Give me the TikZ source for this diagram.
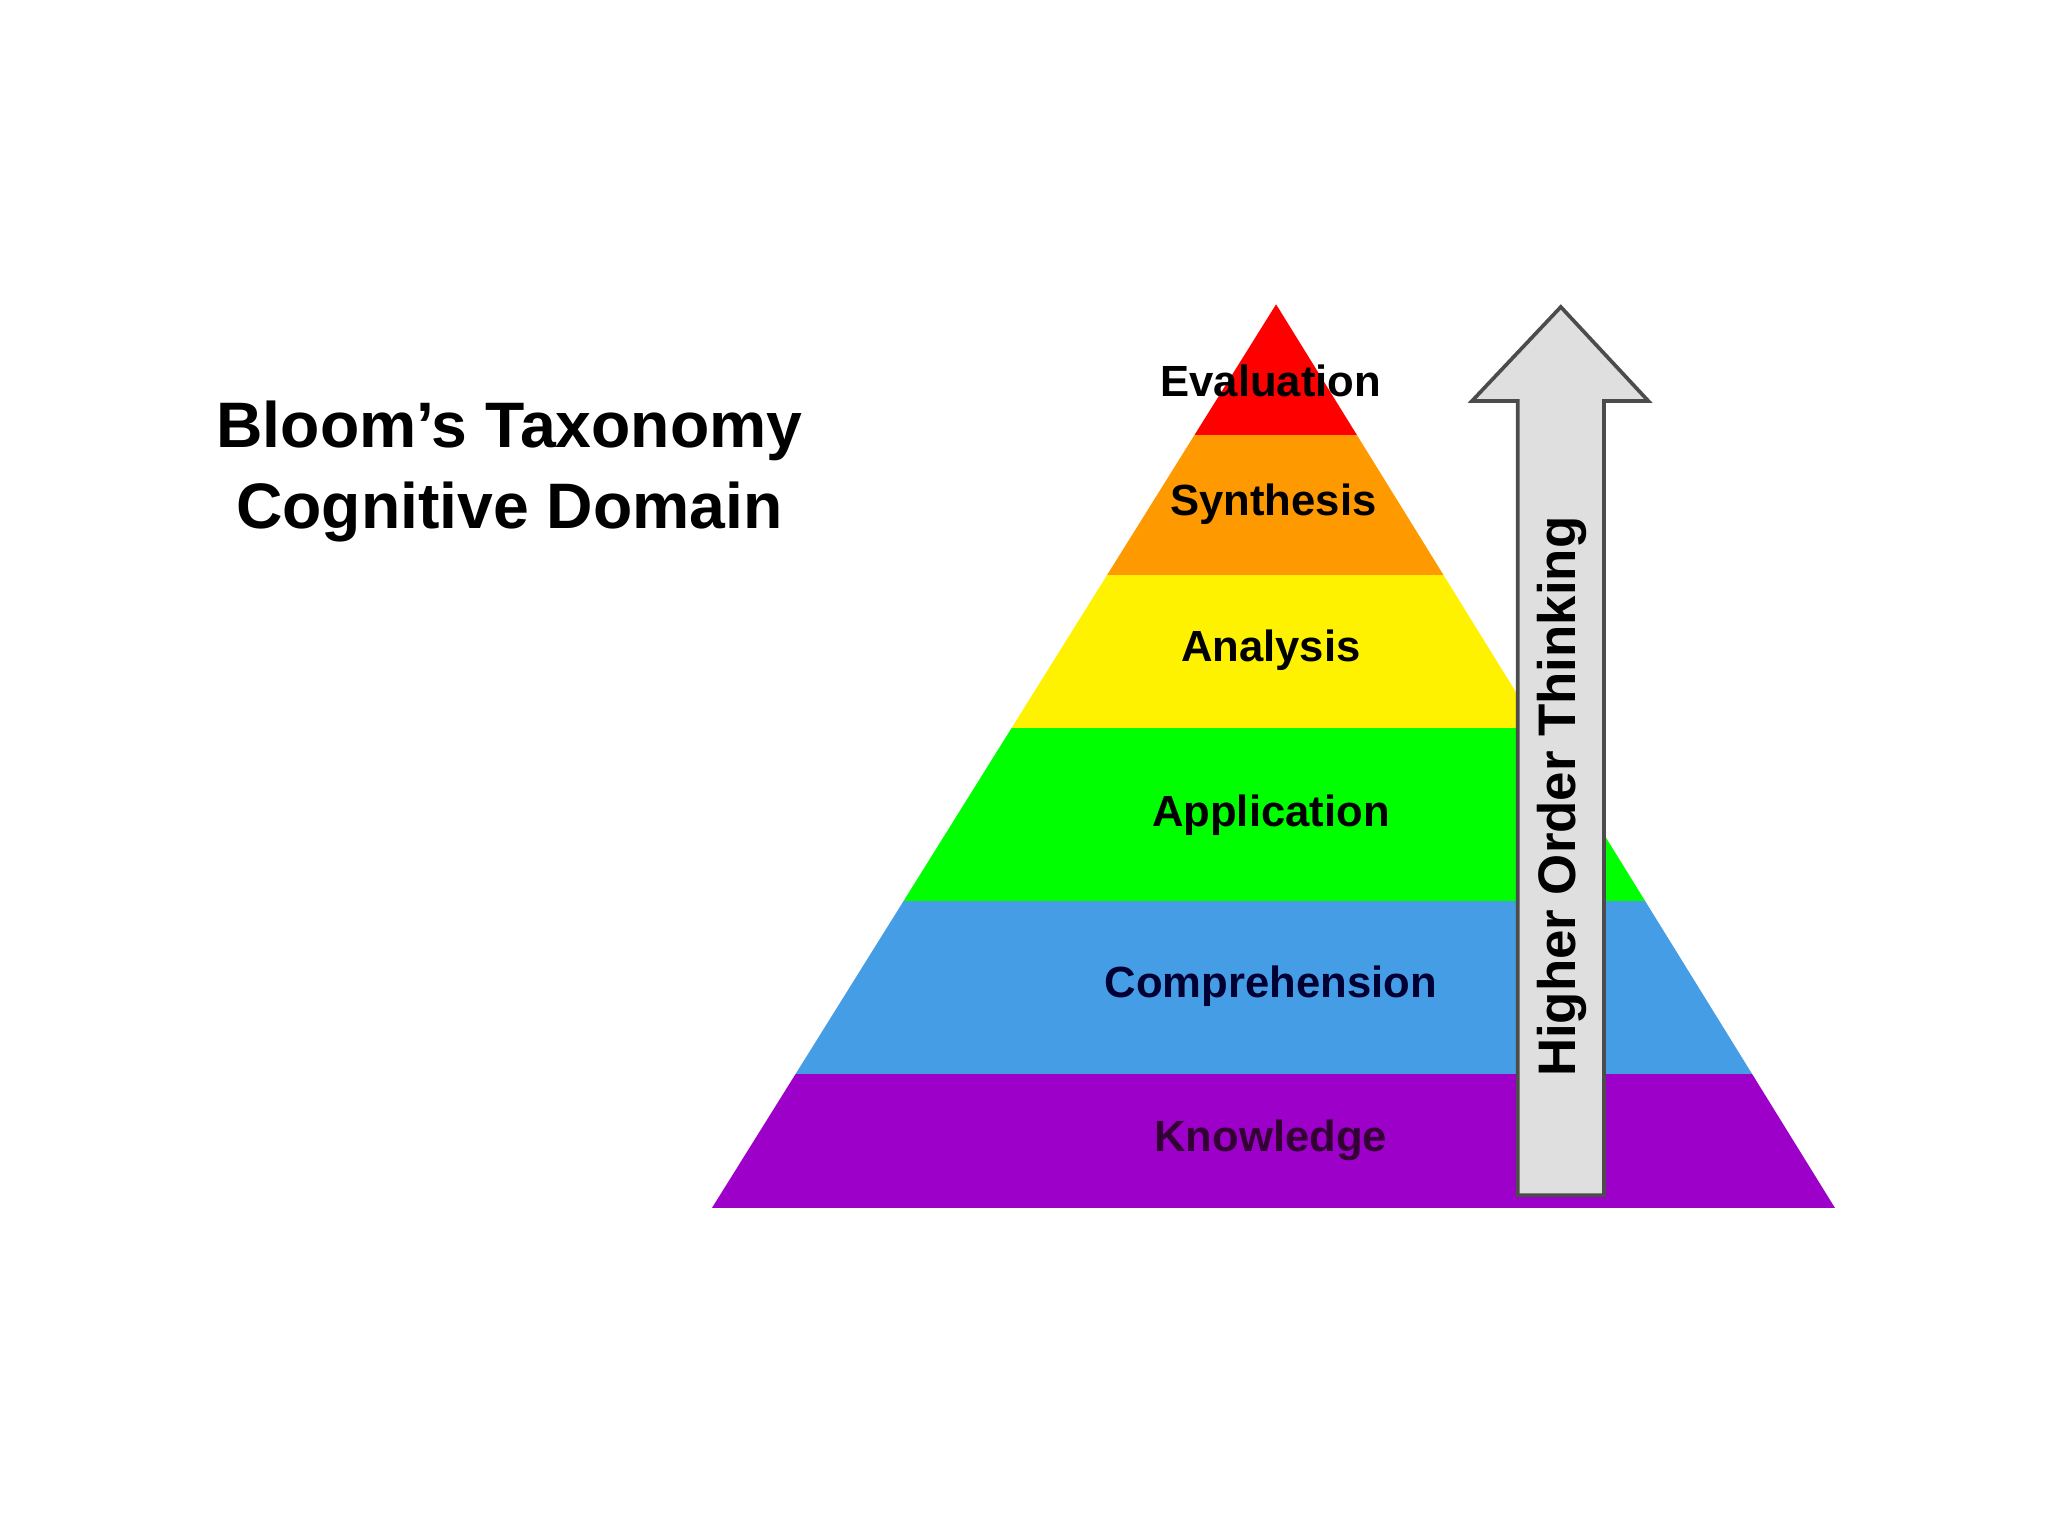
\documentclass[tikz,border=0pt]{standalone}
\usepackage{fontspec}
\setmainfont{Liberation Sans}
\begin{document}
\begin{tikzpicture}[x=0.01cm,y=-0.01cm,
  lbl/.style={font=\bfseries\fontsize{9.5}{11}\selectfont},
  ttl/.style={font=\bfseries\fontsize{14}{17.5}\selectfont,align=center}]
\useasboundingbox (0,0) rectangle (1568,1176);
\fill[white] (0,0) rectangle (1568,1176);
\begin{scope}
\clip (977,233) -- (1405,925) -- (545,925) -- cycle;
\fill[red] (0,233) rectangle (1568,333);
\fill[orange!80!yellow] (0,333) rectangle (1568,440);
\fill[yellow] (0,440) rectangle (1568,557);
\fill[green] (0,557) rectangle (1568,690);
\fill[blue!45!cyan!70!white!90!black] (0,690) rectangle (1568,822);
\fill[violet!70!blue!60!magenta] (0,822) rectangle (1568,925);
\end{scope}
\node[lbl] (ev) at (973,292) {Evaluation};
\node[lbl] (sy) at (975,386) {Synthesis};
\node[lbl] (an) at (973,498) {Analysis};
\node[lbl] (ap) at (973,624) {Application};
\node[lbl,text=blue!20!black] (co) at (973,755) {Comprehension};
\node[lbl,text=violet!40!black] (kn) at (973,873) {Knowledge};
\draw[gray!60!black,fill=gray!25,line width=0.8pt] (1162,915) -- (1162,307) -- (1127,307) -- (1195,235) -- (1262,307) -- (1228,307) -- (1228,915) -- cycle;
\node[font=\bfseries\fontsize{11.5}{14}\selectfont,rotate=90] (hot) at (1196,610) {Higher Order Thinking};
\node[ttl] (title) at (390,361) {Bloom’s Taxonomy\\Cognitive Domain};
\end{tikzpicture}
\end{document}
